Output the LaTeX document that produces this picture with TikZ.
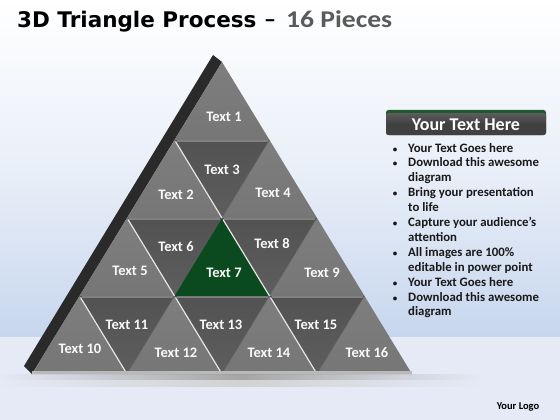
\documentclass[tikz,border=0pt]{standalone}
\usepackage{fontspec}
\setmainfont{Carlito}
\newfontfamily\titlefont{DejaVu Sans}
\usetikzlibrary{fadings}
\definecolor{bgtop}{HTML}{FFFFFF}
\definecolor{bgmid}{HTML}{E9EFF8}
\definecolor{bgbot}{HTML}{C7D6EE}
\definecolor{floorc}{HTML}{E5EAF6}
\definecolor{upc}{HTML}{7E7E7E}
\definecolor{upcb}{HTML}{767676}
\definecolor{dnc}{HTML}{525252}
\definecolor{dncb}{HTML}{5E5E5E}
\definecolor{sidec}{HTML}{2A2A2A}
\definecolor{greenc}{HTML}{0B4A1E}
\definecolor{hdrgrey}{HTML}{404040}
\definecolor{hdrgreen}{HTML}{1E5A2C}
\definecolor{subgrey}{HTML}{5A5A5A}
\tikzfading[name=sidefade, left color=transparent!100, right color=transparent!100, middle color=transparent!0]
\tikzset{
  upcell/.style={top color=upc, bottom color=upcb},
  dncell/.style={top color=dnc, bottom color=dncb},
  edgeline/.style={draw=black!60, line width=0.4pt},
  hilite/.style={draw=white!80!gray, line width=1.2pt},
  lbl/.style={font=\bfseries\fontsize{14.5}{15}\selectfont, text=white!95!gray, inner sep=0pt},
  btxt/.style={font=\bfseries\fontsize{12.8}{13}\selectfont, text=black!90, anchor=base west, inner sep=0pt},
  bdot/.style={font=\bfseries\fontsize{9}{10}\selectfont, text=black!90, anchor=base, inner sep=0pt}
}
\begin{document}
\begin{tikzpicture}[x=1pt,y=-1pt]
\useasboundingbox (0,0) rectangle (560,420);
% background
\shade[top color=bgtop, bottom color=bgbot, middle color=bgmid] (0,0) rectangle (560,337);
\fill[floorc] (0,337) rectangle (560,420);
\shade[top color=floorc!90!white, bottom color=floorc] (0,337) rectangle (560,345);
% shadow under pyramid
\fill[gray!70, path fading=sidefade] (0,374) rectangle (480,380);
\fill[gray!35, path fading=sidefade] (0,380) rectangle (480,387);
% dark side band
\fill[sidec] (213,55) -- (222,62) -- (32,374) -- (24,366) -- cycle;
% cells
\foreach \r in {0,...,3}{
  \foreach \k in {0,...,\r}{
    \pgfmathsetmacro\xt{222+(2*\k-\r)*47.5}
    \pgfmathsetmacro\yt{62+78*\r}
    \pgfmathsetmacro\yb{62+78*(\r+1)}
    \shade[upcell] (\xt,\yt) -- (\xt-47.5,\yb) -- (\xt+47.5,\yb) -- cycle;
  }
}
\foreach \r in {1,...,3}{
  \pgfmathtruncatemacro\kmax{\r-1}
  \foreach \k in {0,...,\kmax}{
    \pgfmathsetmacro\xl{222+(2*\k-\r)*47.5}
    \pgfmathsetmacro\yt{62+78*\r}
    \pgfmathsetmacro\yb{62+78*(\r+1)}
    \shade[dncell] (\xl,\yt) -- (\xl+95,\yt) -- (\xl+47.5,\yb) -- cycle;
    \draw[edgeline] (\xl+95,\yt) -- (\xl+47.5,\yb);
    \draw[black!50, line width=1.5pt] (\xl+2,\yt+0.8) -- (\xl+93,\yt+0.8);
  }
}
% green cell (Text 7)
\fill[greenc] (222,218) -- (174.5,296) -- (269.5,296) -- cycle;
% highlights on right edges of upward cells
\foreach \r in {1,...,3}{
  \pgfmathtruncatemacro\kmax{\r-1}
  \foreach \k in {0,...,\kmax}{
    \pgfmathsetmacro\xt{222+(2*\k-\r)*47.5}
    \pgfmathsetmacro\yt{62+78*\r}
    \pgfmathsetmacro\yb{62+78*(\r+1)}
    \draw[hilite] (\xt+1,\yt+1.5) -- (\xt+47.5,\yb);
  }
}
% bottom edge
\fill[gray!55] (32,371) -- (412,371) -- (412,374) -- (32,374) -- cycle;
% labels
\node[lbl] (t1) at (224,117) {Text 1};
\node[lbl] (t2) at (176,195) {Text 2};
\node[lbl] (t3) at (222,170) {Text 3};
\node[lbl] (t4) at (273,193) {Text 4};
\node[lbl] (t5) at (130,271) {Text 5};
\node[lbl] (t6) at (176,247) {Text 6};
\node[lbl] (t7) at (224,273) {Text 7};
\node[lbl] (t8) at (272,244) {Text 8};
\node[lbl] (t9) at (322,273) {Text 9};
\node[lbl] (t10) at (80,349) {Text 10};
\node[lbl] (t11) at (127,325) {Text 11};
\node[lbl] (t12) at (176,353) {Text 12};
\node[lbl] (t13) at (221,325) {Text 13};
\node[lbl] (t14) at (269,353) {Text 14};
\node[lbl] (t15) at (316,325) {Text 15};
\node[lbl] (t16) at (367,353) {Text 16};
% title
\node[anchor=base west, inner sep=0pt, font=\titlefont\bfseries\fontsize{21.5}{24}\selectfont] (title) at (17,28) {3D Triangle Process};
\node[anchor=base west, inner sep=0pt, font=\bfseries\fontsize{24}{26}\selectfont] (dash) at (264,28) {–};
\node[anchor=base west, inner sep=0pt, text=subgrey, font=\bfseries\fontsize{24}{26}\selectfont] (sub) at (286,28) {\scalebox{1.15}[1]{16 Pieces}};
% header box
\fill[hdrgreen, rounded corners=2.5pt] (386,110) rectangle (546,135);
\shade[top color=hdrgrey!85!white, bottom color=hdrgrey, middle color=hdrgrey, rounded corners=2.5pt] (386,113) rectangle (546,135);
\node[text=white, font=\bfseries\fontsize{18}{18}\selectfont, inner sep=0pt] (hdr) at (466,125) {Your Text Here};
% bullets
\node[bdot] (b1) at (395,152) {•};
\node[btxt] (l1) at (408,152) {Your Text Goes here};
\node[bdot] (b2) at (395,166.9) {•};
\node[btxt] (l2) at (408,166.9) {Download this awesome};
\node[btxt] (l3) at (408,181.8) {diagram};
\node[bdot] (b3) at (395,196.7) {•};
\node[btxt] (l4) at (408,196.7) {Bring your presentation};
\node[btxt] (l5) at (408,211.6) {to life};
\node[bdot] (b4) at (395,226.5) {•};
\node[btxt] (l6) at (408,226.5) {Capture your audience’s};
\node[btxt] (l7) at (408,241.4) {attention};
\node[bdot] (b5) at (395,256.3) {•};
\node[btxt] (l8) at (408,256.3) {All images are 100\%};
\node[btxt] (l9) at (408,271.2) {editable in power point};
\node[bdot] (b6) at (395,286.1) {•};
\node[btxt] (l10) at (408,286.1) {Your Text Goes here};
\node[bdot] (b7) at (395,301) {•};
\node[btxt] (l11) at (408,301) {Download this awesome};
\node[btxt] (l12) at (408,315.9) {diagram};
% logo
\node[font=\bfseries\fontsize{10.5}{11}\selectfont, inner sep=0pt, anchor=base] (logo) at (518,409) {Your Logo};
\end{tikzpicture}
\end{document}
